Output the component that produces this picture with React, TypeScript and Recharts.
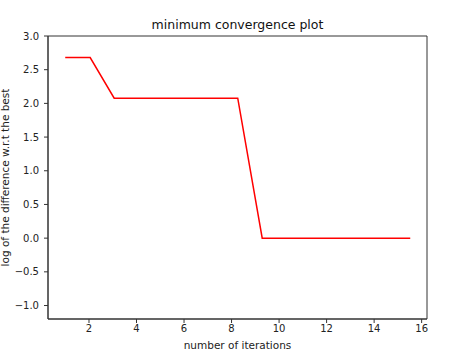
import React from 'react';
import { LineChart, Line, XAxis, YAxis, Label, ReferenceArea } from 'recharts';

const iterations = [1, 2.05, 3.06, 8.26, 9.29, 15.52];
const logDiff = [2.68, 2.68, 2.077, 2.077, 0, 0];
const xTicks = [2, 4, 6, 8, 10, 12, 14, 16];
const yTicks = [-1, -0.5, 0, 0.5, 1, 1.5, 2, 2.5, 3];

const data = iterations.map((it, i) => ({ it, v: logDiff[i] }));

const xDomain: [number, number] = [0.275, 16.225];
const yDomain: [number, number] = [-1.2, 3];

const font = '"DejaVu Sans", sans-serif';
const axisColor = '#333';
const tickStyle = { fill: '#222', fontSize: 10, fontFamily: font };
const fmt = (v: number) => (v < 0 ? '\u2212' + Math.abs(v).toFixed(1) : v.toFixed(1));

export default function App() {
  return (
    <div style={{ position: 'absolute', left: 0, top: 0, background: '#fff' }}>
      <LineChart
        width={474}
        height={355}
        data={data}
        margin={{ top: 36, right: 47, bottom: 0, left: 0 }}
      >
        <XAxis
          dataKey="it"
          type="number"
          domain={xDomain}
          ticks={xTicks}
          allowDataOverflow
          height={36}
          tickSize={4}
          tickMargin={2}
          stroke={axisColor}
          tick={tickStyle}
        >
          <Label
            value="number of iterations"
            position="insideBottom"
            offset={6}
            style={{ fill: '#222', fontSize: 10.5, fontFamily: font }}
          />
        </XAxis>
        <YAxis
          type="number"
          domain={yDomain}
          ticks={yTicks}
          allowDataOverflow
          width={48}
          tickSize={4}
          tickMargin={5}
          tickFormatter={fmt}
          stroke={axisColor}
          tick={tickStyle}
        >
          <Label
            value="log of the difference w.r.t the best"
            angle={-90}
            position="center"
            dx={-19}
            style={{ fill: '#222', fontSize: 10.5, fontFamily: font, textAnchor: 'middle' }}
          />
        </YAxis>
        <ReferenceArea
          x1={xDomain[0]}
          x2={xDomain[1]}
          y1={yDomain[0]}
          y2={yDomain[1]}
          fill="none"
          stroke={axisColor}
          strokeWidth={1}
          ifOverflow="visible"
        >
          <Label
            value="minimum convergence plot"
            position="top"
            offset={7}
            style={{ fill: '#111', fontSize: 12.5, fontFamily: font }}
          />
        </ReferenceArea>
        <Line
          type="linear"
          dataKey="v"
          stroke="#ff0000"
          strokeWidth={1.5}
          dot={false}
          isAnimationActive={false}
        />
      </LineChart>
    </div>
  );
}
